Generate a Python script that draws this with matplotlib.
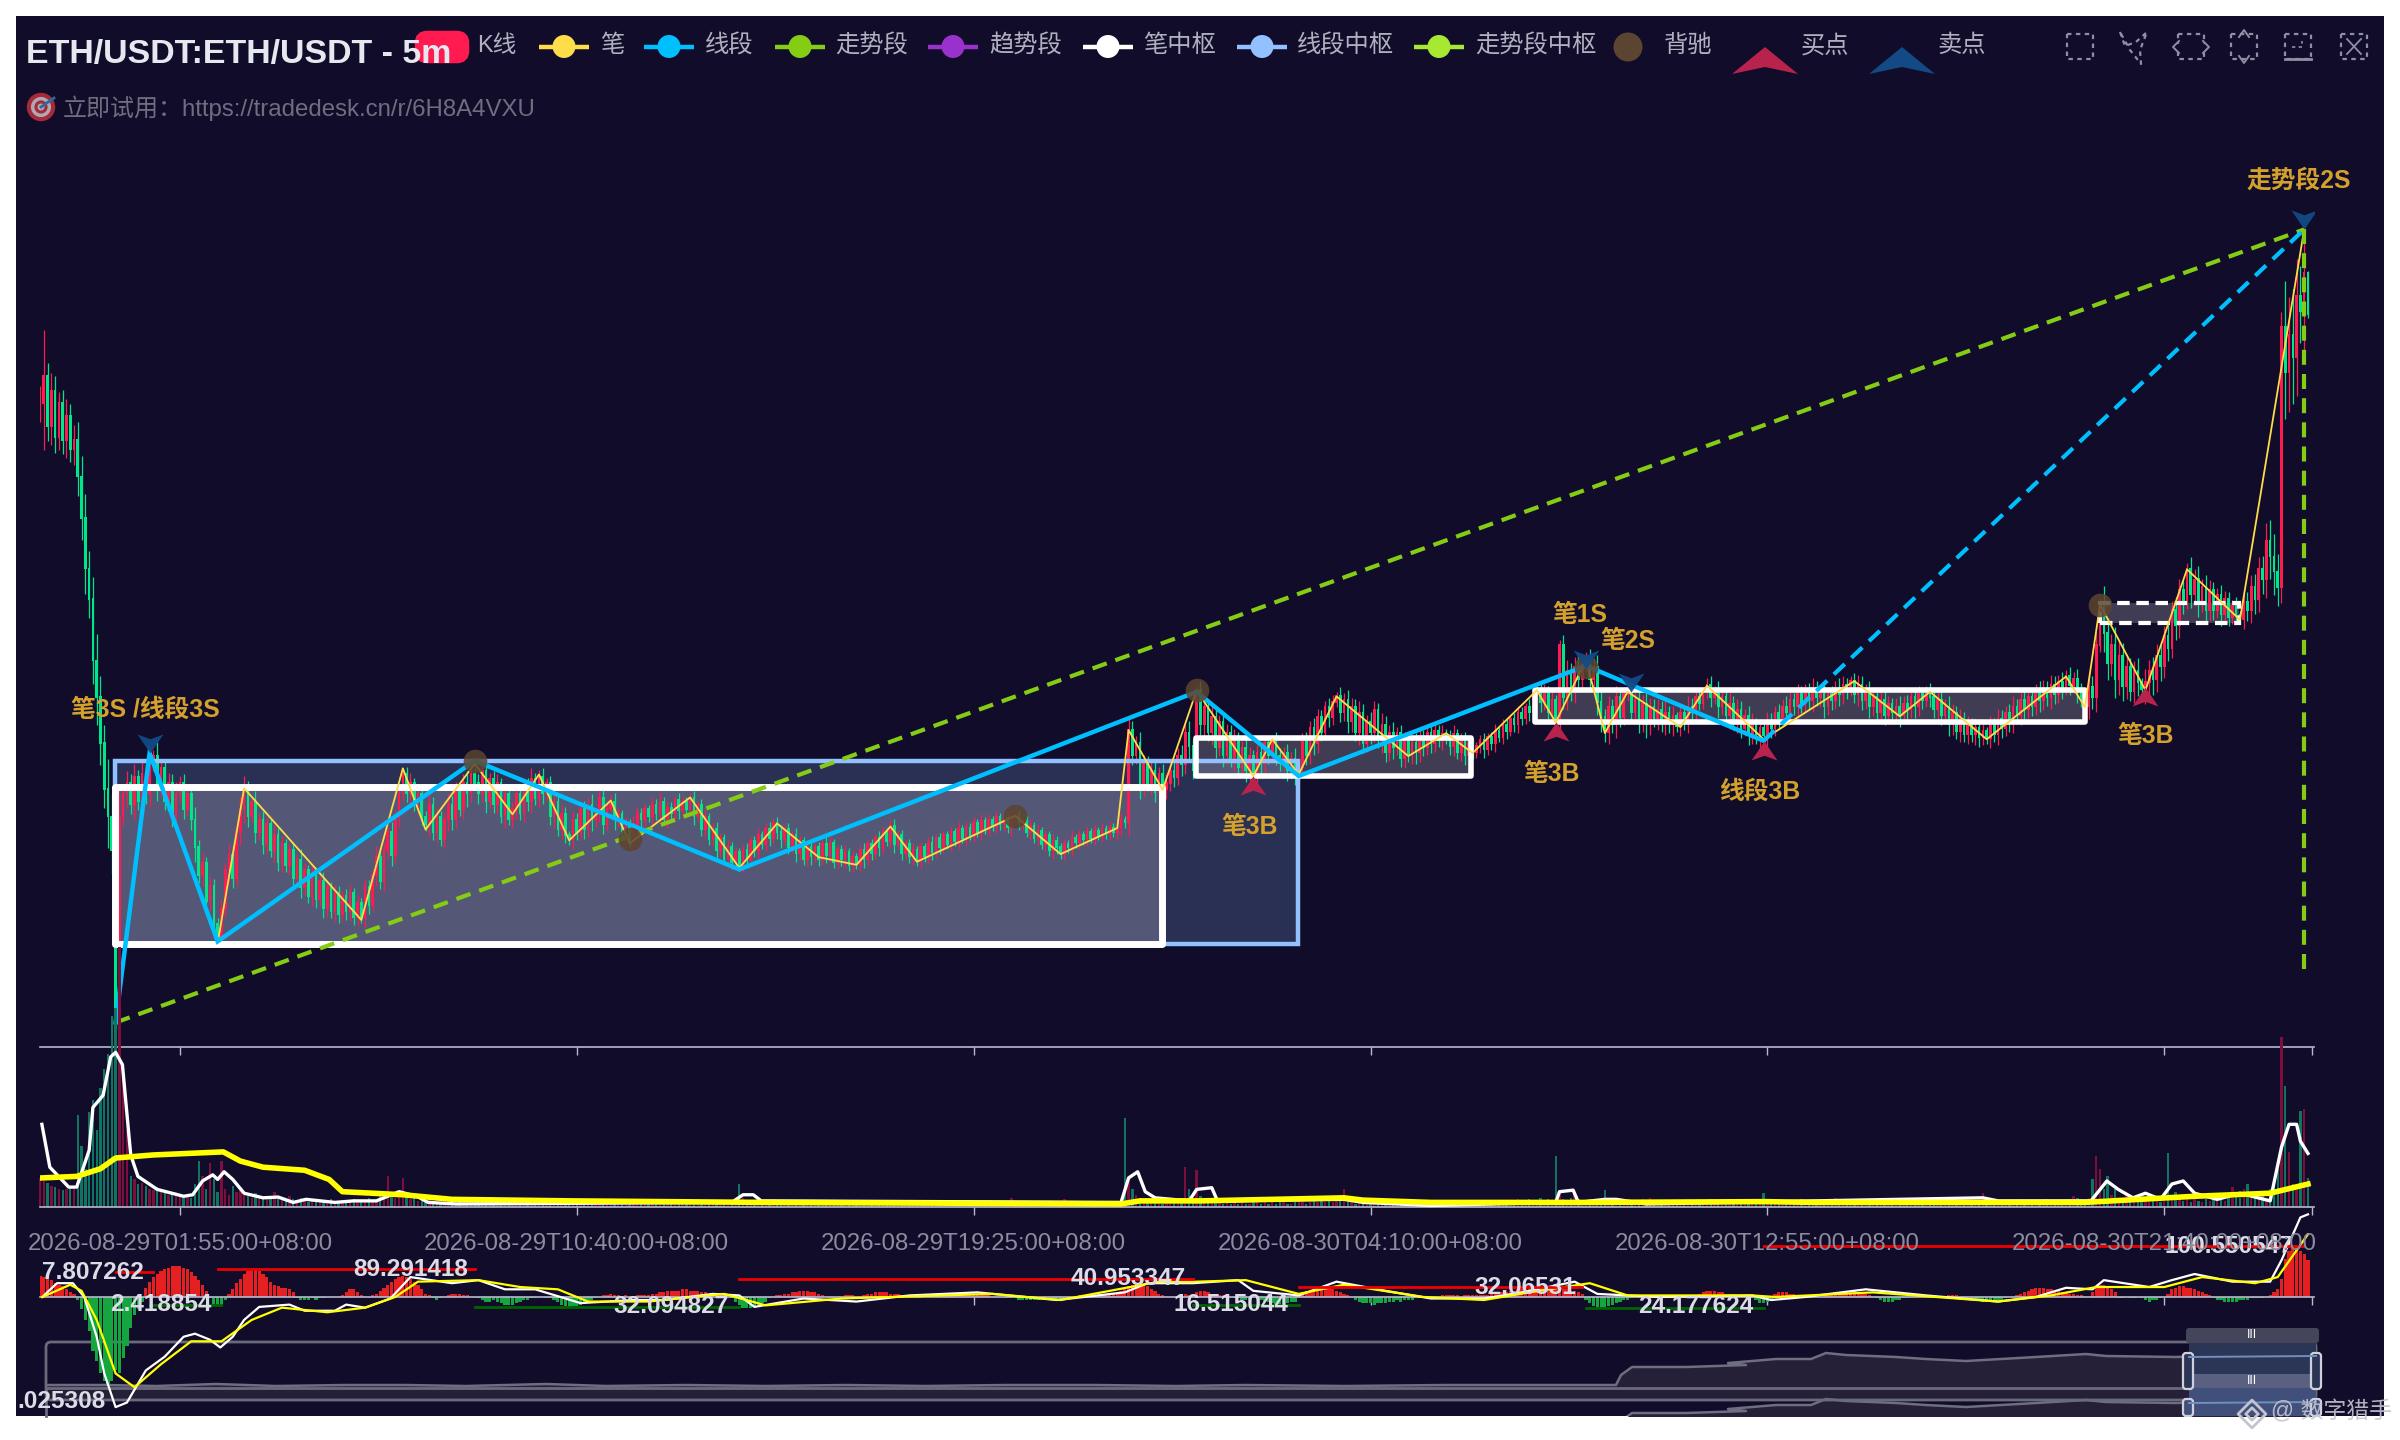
import matplotlib
matplotlib.use("Agg")
import matplotlib.pyplot as plt
from matplotlib.patches import Rectangle, FancyBboxPatch, Polygon, Ellipse
from matplotlib.path import Path
import numpy as np

plt.rcParams['font.family'] = ['Liberation Sans', 'Noto Sans CJK SC', 'DejaVu Sans']

BG = '#100c2a'
RED = '#ff1a50'
GREEN = '#00e68a'
GOLD = '#d4a12c'
AXIS = '#b9b8ce'
W, H = 2400, 1440

# candles: one close per 5 minute bar, open is the close before it
close = [
    420,438,405,428,398,420,396,412,390,396,372,345,312,292,252,228,198,168,150,128,
    20,150,165,172,158,176,160,178,165,184,190,170,182,160,172,150,165,172,155,165,
    148,130,112,120,95,105,80,72,90,115,125,110,140,155,168,150,160,140,148,132,
    145,128,138,120,132,118,128,110,122,104,115,98,112,96,108,90,104,88,100,86,
    98,88,100,84,94,84,104,92,112,124,108,128,140,125,150,165,178,165,172,158,
    165,150,145,158,140,150,135,148,158,148,168,155,172,165,178,172,165,180,160,175,
    158,172,150,165,148,155,165,152,170,160,175,162,176,165,172,150,160,142,152,138,
    135,148,140,155,142,158,148,152,162,145,155,160,148,152,138,145,134,145,152,148,
    155,150,158,152,160,148,156,152,161,154,160,155,162,150,158,142,150,135,142,128,
    136,122,130,120,127,118,128,122,134,128,138,132,142,136,146,140,135,142,130,138,
    126,134,122,130,124,130,122,132,125,133,120,128,122,127,118,124,119,128,122,132,
    126,136,130,140,134,144,132,138,126,132,124,128,121,130,124,133,127,136,130,138,
    132,140,134,142,136,143,138,146,140,147,142,148,144,150,145,149,143,150,151,146,
    148,140,144,136,141,132,138,128,134,130,126,132,130,136,133,138,135,140,136,141,
    138,142,139,143,140,143,148,146,207,190,198,170,185,172,180,166,178,168,172,180,
    176,190,184,205,196,180,233,210,222,205,215,195,212,190,205,188,200,182,195,180,
    190,177,192,185,198,190,200,190,185,192,180,188,178,182,200,190,208,198,215,205,
    222,215,225,229,218,226,212,222,205,218,198,212,205,220,200,210,192,205,195,205,
    188,200,190,198,192,202,195,205,198,206,200,204,202,196,204,192,200,190,198,192,
    196,200,194,202,198,206,202,210,206,214,210,218,214,222,218,228,233,225,232,218,
    226,212,262,228,245,232,248,240,250,253,240,248,225,215,205,222,210,228,215,230,
    232,218,226,212,224,210,222,214,220,212,218,210,216,209,218,212,222,218,228,224,
    232,236,228,232,222,228,216,224,212,220,208,216,204,212,201,208,203,212,208,218,
    214,222,218,226,222,230,224,232,226,234,228,230,222,230,226,234,230,236,232,239,
    230,236,226,232,222,228,218,226,216,224,218,222,216,224,220,228,222,230,226,232,
    228,220,226,216,222,210,218,206,214,204,210,204,208,202,206,201,210,204,214,208,
    218,212,222,216,226,220,228,222,232,226,234,228,236,230,238,234,242,236,240,232,
    228,222,235,228,262,289,270,250,262,240,255,235,248,232,245,238,233,238,245,240,
    255,248,268,260,285,275,298,290,312,295,305,290,300,285,298,285,295,282,292,280,
    288,282,279,290,285,300,292,312,305,330,320,310,300,470,440,465,450,490,480,505,478,
]
wick = [
    12,30,9,12,10,8,9,11,8,10,12,14,16,12,15,18,14,12,20,15,
    8,20,5,8,6,9,5,8,6,8,4,9,6,5,7,6,8,5,6,4,
    6,9,5,7,4,6,5,4,6,5,7,6,5,8,9,6,4,7,5,6,
    5,4,7,5,6,4,5,6,4,7,5,4,6,5,4,6,5,4,6,5,
    4,5,6,4,5,3,6,5,4,7,5,6,4,7,5,6,4,5,7,4,
    6,5,4,7,5,6,4,5,7,6,5,4,6,8,5,4,6,5,7,4,
    5,6,4,7,3,5,6,4,5,6,7,4,5,6,4,5,7,4,6,5,
    3,6,5,4,6,5,7,4,5,6,4,5,6,4,3,5,4,6,5,4,
    4,3,5,4,6,3,5,4,3,5,4,3,4,5,3,4,5,3,4,5,
    4,3,5,4,3,3,4,5,3,4,5,3,4,5,3,4,5,3,4,3,
    5,4,3,4,5,3,4,3,5,4,3,3,4,5,3,4,3,4,5,3,
    4,3,5,4,3,4,5,3,4,3,4,5,3,4,3,4,5,3,4,3,
    3,4,3,5,3,4,3,4,3,5,3,4,3,4,3,4,3,5,3,4,
    4,3,5,3,4,3,4,3,5,4,3,4,3,5,3,4,3,4,3,4,
    3,4,3,4,3,4,5,3,8,6,5,8,6,5,7,6,5,7,6,5,
    6,5,7,6,8,5,3,6,7,5,8,6,5,7,6,5,8,6,5,7,
    6,4,5,7,6,5,4,6,5,4,6,5,7,4,5,6,5,7,6,5,
    4,6,5,3,6,5,7,6,5,8,6,5,7,6,5,8,6,5,7,4,
    5,6,4,5,7,6,5,4,6,5,4,6,4,5,6,4,5,6,4,4,
    3,4,5,3,4,5,3,4,5,3,4,5,4,3,5,4,3,6,5,4,
    6,4,4,7,8,6,7,8,6,5,7,6,8,9,6,7,5,8,6,5,
    4,6,5,7,6,8,6,5,7,6,8,5,7,3,6,5,7,6,5,4,
    3,5,6,4,7,5,6,8,5,7,6,5,7,6,3,6,5,7,6,5,
    6,5,7,6,5,7,6,5,6,7,5,6,7,5,6,5,7,6,5,3,
    5,7,6,5,7,6,5,7,6,5,4,6,7,5,6,5,7,6,5,4,
    6,5,7,6,5,7,6,5,7,5,6,5,7,6,5,3,6,5,7,6,
    5,6,7,5,6,7,5,6,5,7,6,5,7,6,5,7,4,6,5,7,
    6,5,8,7,9,4,12,10,8,12,10,9,8,6,7,9,3,9,8,10,
    8,9,7,8,6,9,8,7,4,8,7,9,6,8,7,6,5,7,6,5,
    4,6,3,6,7,8,9,8,9,12,14,15,12,10,30,25,30,25,20,29,2,
]

# 笔
pen_x = [47,54,85,96,102,115,125,132,140,151,156,172,185,195,206,216,225,232,258,270,285,288,297,
         306,321,326,333,343,362,372,379,396,401,409,414,420,434,441,456,480,492,500,515,536,541,
         545,557,568,582,599]
pen_v = [68,169,83,182,142,185,152,178,135,161,133,163,117,146,124,119,144,121,151,126,143,207,168,
         233,177,201,178,229,190,205,192,233,212,253,205,232,209,236,201,239,216,232,201,242,222,
         289,233,312,279,534]
# 线段, the last leg is dashed
seg_x = [20,29,47,115,185,306,333,409,456]
seg_v = [16,192,69,187,116,232,177,249,200]
seg_open_x = [456,599]
seg_open_v = [200,534]
# 走势段
trend_x = [20,599]
trend_v = [16,534]
trend_drop_x = [599,599]
trend_drop_v = [534,51]
# 线段中枢 / 笔中枢: left, right, bottom, top
seg_hub = [19.8,332.8,67,187]
pen_hubs = [[19.8,296.8,67,170],[305.7,378.5,177,202],[395.5,540.9,212,233]]
open_hub = [544.9,581.8,277,290]
# 背驰
div_x = [115,156,258,306,409,545]
div_v = [187,136,151,233,248,289]
# 买卖点
buy_x = [321,401,456,557]
buy_v = [177,212,200,235]
sell_x = [29,409,421,599]
sell_v = [192,247,232,534]
point_labels = ['笔3S /线段3S','走势段2S','笔1S','笔2S','笔3B','笔3B','笔3B','线段3B']
point_label_x = [28,597.5,407.5,420,320,400,557,455]
point_label_v = [220,566,282,265,144,178,203,167]

# 成交量
vol = [
    19,17,16,14,13,12,11,12,14,13,60,40,25,62,70,50,78,90,100,125,
    130,170,90,50,20,18,15,16,14,12,11,13,10,9,8,9,10,8,7,8,
    6,15,30,20,12,29,18,10,30,12,8,14,10,13,8,7,6,9,6,5,
    7,6,10,5,6,4,7,5,3,6,4,3,5,4,3,4,3,5,3,4,
    3,4,3,5,4,3,4,6,3,4,7,5,20,9,6,10,19,8,5,7,
    4,6,3,5,4,8,3,4,3,5,2,3,4,3,2,3,2,4,2,3,
    2,3,4,2,3,2,3,2,5,3,2,3,2,4,2,3,2,2,3,2,
    3,2,5,3,2,3,2,4,2,3,2,3,2,3,2,2,4,2,3,2,
    2,3,2,2,3,2,2,3,2,2,3,2,3,2,2,3,2,2,4,2,
    3,2,2,3,4,15,6,3,2,2,3,2,2,3,2,2,3,2,2,2,
    3,2,2,3,2,2,3,2,4,2,3,2,2,3,2,2,2,3,2,3,
    3,2,2,4,2,3,2,2,3,2,2,3,2,2,3,2,2,4,2,3,
    2,3,2,2,3,2,2,3,2,2,2,3,2,2,3,2,2,6,3,2,
    3,2,2,3,2,4,2,3,2,2,3,5,2,3,2,2,3,2,2,2,
    2,3,2,2,3,2,2,58,19,12,8,6,4,5,3,4,3,2,3,3,
    4,3,5,26,12,5,24,7,4,3,3,4,3,2,3,2,3,2,3,2,
    2,3,4,2,3,2,3,2,4,3,2,2,3,4,3,2,3,4,3,4,
    3,4,3,5,8,12,5,3,2,3,2,2,3,2,4,3,2,3,2,2,
    3,2,2,3,2,2,3,2,3,2,2,2,3,2,2,3,2,2,3,2,
    2,2,3,2,3,4,3,2,4,3,2,5,3,4,5,3,4,6,3,5,
    4,33,9,5,4,6,10,5,3,4,5,3,5,4,11,3,2,3,4,3,
    3,4,2,3,5,3,6,3,4,3,2,3,4,3,2,3,5,2,3,4,
    3,4,5,3,2,3,2,3,4,3,2,3,2,3,4,3,9,5,4,3,
    3,2,3,2,4,3,5,3,2,3,3,2,5,3,4,6,3,2,3,2,
    3,4,2,3,4,3,5,3,3,2,3,2,3,4,3,2,3,2,3,2,
    3,2,3,2,3,2,3,4,3,2,3,2,3,2,9,4,3,5,3,2,
    3,2,4,3,5,3,2,4,3,2,4,5,3,2,4,3,4,5,7,6,
    5,4,6,18,33,25,12,20,8,12,5,6,8,4,5,3,4,5,6,4,
    5,3,4,35,8,10,6,4,5,3,6,4,3,5,4,6,8,5,4,7,
    13,8,6,12,15,10,8,7,9,6,12,18,25,111,79,36,15,12,63,64,19,
]
# 成交量均线
vol_fast_x = [0.5,2.6,7.6,9.7,13,14,16.7,18.7,20,21.8,24,25.9,31,38,40.4,43,45.7,47,48.7,51,54,59,63,67,70.4,78,83,89,95,99.7,102.7,110,
              183,186,188.7,190.8,286,288,290.4,292.4,295,304,306,310,311.5,345,350,368,401,402,405.6,407,414,417,425,514,518,542.6,546.8,
              549.8,553.7,557,561,564,567,570,576,582,590,593,595,597,598,600]
vol_fast_h = [54,26,13,13,37,65,73,98,101,93,34,20,11.5,7,8,17,21,18,23,18,9,6,6.5,3,5,3,4,4,10,7,3,2,
              3,8,8,4,3,19,23,10,6,4,11.5,12.6,4,5,3,1,3,10,11,3,5,5,2,6,4,4,17,
              11.5,6,9,5,15,17,9,5,9,4,39,54,54,43,35]
vol_slow_x = [0.5,9.7,16,20,30,48.5,53,59,70,76.5,80,96,109,141,192,286,291,307,345,350,368,408,456.6,469,541,570,590,600]
vol_slow_h = [19,20,25,32,34,36,30,26,24,18,10,8,5,4,3,2,4,4,6,4.5,3,3,3.5,3,3,7,9,15]

# MACD
hist = [
    14,13,12,11,9,8,7,5,3,2,-2,-8,-15,-22,-35,-42,-50,-55,-57,-55,
    -48,-50,-40,-32,-20,-12,-8,-3,6,10,13,15,17,18,19,20,20,20,19,18,
    16,14,11,8,4,-1,-5,-6,-5,-2,2,5,9,12,15,17,18,18,17,15,
    13,10,8,7,6,6,5,3,-1,-2,-2,-2,-1,-2,-1,-1,0,0,0,0,
    1,3,5,5,3,1,0,0,1,2,4,6,8,10,12,13,14,13,12,10,
    8,5,2,1,-1,-2,-1,0,1,2,2,2,1,1,0,0,-1,-2,-3,-3,
    -2,-3,-4,-5,-5,-5,-4,-3,-2,-2,-1,-1,0,0,-1,-1,-2,-3,-5,-6,
    -7,-6,-6,-5,-4,-3,-2,-1,0,1,1,2,1,1,0,1,0,0,1,1,
    1,1,2,2,3,3,4,4,4,4,5,5,4,4,4,3,3,2,2,2,
    1,1,0,-1,-3,-5,-7,-7,-7,-6,-5,-4,-3,-1,0,1,1,2,2,3,
    3,4,4,4,3,3,2,1,0,-1,-1,0,0,1,1,1,0,0,1,2,
    2,3,3,3,3,2,2,2,1,1,1,0,-1,-1,0,1,1,2,2,2,
    2,2,2,1,1,1,1,2,2,2,1,1,0,0,0,-1,-1,-1,-1,-2,
    -2,-2,-2,-2,-2,-1,-1,-2,-2,-2,-2,-1,-1,-1,0,1,1,1,2,2,
    2,2,2,2,2,3,4,5,7,8,9,9,8,7,5,4,2,1,0,0,
    0,0,1,2,1,2,3,4,4,3,2,2,1,1,0,0,-1,-1,-2,-2,
    -2,-1,-1,-2,-3,-3,-4,-5,-5,-5,-4,-3,-3,2,3,4,4,5,5,6,
    6,6,5,4,3,2,1,0,-2,-3,-4,-4,-4,-5,-4,-4,-4,-3,-3,-2,
    -3,-2,-2,-2,-1,-1,0,0,0,0,0,1,1,1,1,1,0,1,1,1,
    1,1,1,1,2,2,3,3,3,4,4,5,5,5,5,5,5,4,4,4,
    5,5,6,5,5,4,4,3,2,-2,-4,-6,-7,-7,-7,-6,-5,-4,-3,-2,
    -2,-1,0,0,1,1,0,0,1,1,0,0,-1,0,0,1,1,1,1,2,
    3,4,4,4,3,3,2,2,2,1,1,1,0,-1,-2,-4,-4,-3,-2,2,
    3,3,3,2,2,1,1,1,1,1,0,0,1,1,1,2,2,3,4,4,
    4,3,3,2,1,0,-1,-2,-3,-3,-3,-2,-2,-1,-1,0,0,1,1,1,
    1,1,0,0,0,1,1,1,0,-1,-1,-2,-2,-2,-3,-3,-3,-3,-2,-2,
    -1,0,0,1,2,3,4,5,6,6,6,5,5,4,4,3,3,2,2,1,
    1,0,0,3,7,8,8,7,5,3,-1,-1,0,-1,-1,0,-1,-2,-3,-2,
    -2,-1,0,2,5,6,7,7,6,6,5,4,3,2,1,-1,-2,-2,-3,-3,
    -3,-3,-2,-2,-2,-1,-1,-1,-1,0,1,3,5,12,25,30,33,33,30,28,24,
]
dif_x = [0.6,4.5,8.7,11.7,15,17,20,23,28,33,38,41,45,47.7,51,54,58,66,70,78,81,86,92.7,98,109,116,123,131,143,157,165,178,185,189,202,216,230,248,269,287,293,305,
         317,321,333,343,356,368,382,392,406,412,428,453,458,467,483,499,518,528,536,543,546,558,564,570,580,590,593,598,600]
dif_h = [0,9,9,0,-26,-50,-72,-69,-48,-39,-26,-24,-28,-33,-26,-15,-6.5,-5,-9,-9,-5,-7,-1,13,9,11,5,5,-4,-2,-2,2,1,-6.5,-1,-3,1,3,-2,3,9,9,
         11,4,1,10,4,-1,-1,3,10,2,0,1,-2,0,5,1,-3,0,6,5,11,6.5,11,15,10,10,24,52,54]
dea_x = [0.6,8,11,15,20,25,32,40,48,56,64,76,86,94,100,116,127,137,145,161,181,192,212,252,270,296,306,
         319,333,345,366,382,394,410,420,453,459,485,518,532,544,562,572,586,592,600]
dea_h = [0,8,4,-15,-50,-59,-44,-29,-29,-15,-7,-10,-7,0,10,11,6.5,5,-3,-3,2,-5.5,-1,2,-2,10,10,
         11,2,8,0,-2,3,9,1,1,0,3,-3,1,6.5,6.5,13,9,13,41]
macd_line_x = [[20,30],[47,115],[29,48],[115,185],[185,305],[305,333],[333,408],[409,456],[456,599]]
macd_line_h = [16,18.3,-5.4,-6.5,12,-5.4,6.5,-7,33]
macd_line_up = [True,True,False,False,True,False,True,False,True]
macd_labels = ['7.807262','89.291418','2.418854','32.094827','40.953347','16.515044','32.06531','24.177624','100.550547']
macd_label_x = [14,98,32,167,288,315,393,438,579]
macd_label_h = [16,18,-5,-6,12,-5,6,-6,33]

# dataZoom 总览
dz_x = [0,60,110,170,230,300,360,420,500,560,640,720,800,880,960,1050,1130,1200,1300,1400,1500,1570,
        1575,1586,1640,1700,1682,1730,1765,1780,1800,1850,1880,1920,1990,2040,2060,2130,2180,2220,2270]
dz_v = [15,15,14,16,14,15,15,14,16,14,15,14,15,14,15,15,14,15,14,15,15,15,
        25,33,33,35,37,41,41,47,45,43,41,39,43,46,44,43,45,47,44]

tick_pos = [37,142,247,352,457,562,601]
tick_labels = ['2026-08-29T01:55:00+08:00','2026-08-29T10:40:00+08:00','2026-08-29T19:25:00+08:00',
               '2026-08-30T04:10:00+08:00','2026-08-30T12:55:00+08:00','2026-08-30T21:40:00+08:00','']

legend_names = ['笔','线段','走势段','趋势段','笔中枢','线段中枢','走势段中枢']
legend_colors = ['#ffdc4a','#00bfff','#85cc14','#9932cc','#ffffff','#93c0ff','#a6e832']
legend_mark_x = [564,669,800,953,1108,1262,1439]
legend_text_x = [600,705,835,989,1143,1297,1475]
tool_x = [2080,2135,2191,2244,2298,2354]


def px_axes(left, top, right, bottom, **kw):
    a = fig.add_axes([left / W, 1 - bottom / H, (right - left) / W, (bottom - top) / H], **kw)
    a.patch.set_alpha(0)
    return a


fig = plt.figure(figsize=(24, 14.4), dpi=100, facecolor='white')

# background, title, legend and toolbox, in picture pixels
ov = px_axes(0, 0, W, H, zorder=0)
ov.set_xlim(0, W)
ov.set_ylim(H, 0)
ov.axis('off')
ov.add_patch(Rectangle((16, 16), 2368, 1400, color=BG, lw=0))
ov.add_patch(FancyBboxPatch((421, 37), 42, 20, boxstyle='round,pad=0,rounding_size=6', mutation_aspect=1,
                            fc=RED, ec=RED, lw=9))
ov.text(26, 55, 'ETH/USDT:ETH/USDT - 5m', color='#e6e8f0', fontsize=24.4, fontweight='bold', va='center', zorder=5)
ov.text(477, 46, 'K线', color='#b0b0c0', fontsize=17, va='center')
for name, c, mx, tx in zip(legend_names, legend_colors, legend_mark_x, legend_text_x):
    ov.plot([mx - 25, mx + 25], [46.5, 46.5], color=c, lw=3.2, solid_capstyle='butt')
    ov.add_patch(Ellipse((mx, 46.5), 23, 23, color=c, lw=0))
    ov.text(tx, 46, name, color='#b0b0c0', fontsize=17.5, va='center')
ov.add_patch(Ellipse((1628, 47), 29, 29, color='#5c4530', lw=0))
ov.text(1664, 46, '背驰', color='#b0b0c0', fontsize=17.5, va='center')
for cx, c, name, tx in [(1765, '#b8234d', '买点', 1801), (1902, '#134a86', '卖点', 1937)]:
    ov.add_patch(Polygon([(cx, 47), (cx + 33, 74), (cx, 67), (cx - 33, 74)], color=c, lw=0))
    ov.text(tx, 46, name, color='#b0b0c0', fontsize=17.5, va='center')
# toolbox icons
ICON = '#8f8fa3'
for k, tx in enumerate(tool_x):
    if k == 1:
        ov.plot([tx - 15, tx - 10, tx + 1, tx + 12, tx + 5, tx + 6, tx - 5, tx - 15],
                [32, 46, 42, 32, 50, 64, 50, 32], color=ICON, lw=1.6, ls=(0, (2, 2)))
        continue
    ov.add_patch(Rectangle((tx - 13, 34), 26, 25, fill=False, ec=ICON, lw=1.6, ls=(0, (2, 2))))
    if k == 2:
        ov.plot([tx - 20, tx + 20], [47, 47], color=BG, lw=5)
        ov.plot([tx - 12, tx - 18, tx - 12], [41, 47, 53], color=ICON, lw=1.4)
        ov.plot([tx + 12, tx + 18, tx + 12], [41, 47, 53], color=ICON, lw=1.4)
    elif k == 3:
        ov.plot([tx - 5, tx, tx + 5], [37, 30, 37], color=ICON, lw=1.4)
        ov.plot([tx - 5, tx, tx + 5], [56, 63, 56], color=ICON, lw=1.4)
    elif k == 4:
        ov.plot([tx - 13, tx + 13], [59, 59], color=ICON, lw=2)
        ov.plot([tx - 6, tx + 4, tx + 4], [47, 47, 41], color=ICON, lw=1.2, ls=(0, (2, 2)))
    elif k == 5:
        ov.plot([tx - 7, tx + 7], [39, 54], color=ICON, lw=1.3)
        ov.plot([tx + 7, tx - 7], [39, 54], color=ICON, lw=1.3)
ov.scatter([41, 41, 41, 41], [107, 107, 107, 107], s=[420, 210, 90, 25],
           c=['#a52a3c', '#b0a8b0', '#a52a3c', '#b0a8b0'], linewidths=0)
ov.plot([41, 54], [107, 98], color='#2a6aa0', lw=2)
ov.text(63, 108, '立即试用：https://tradedesk.cn/r/6H8A4VXU', color='#6e6e80', fontsize=17.3, va='center')

# dataZoom sliders
dz = px_axes(46, 1342, 2316, 1400, zorder=1)
dz.set_xlim(0, 2270)
dz.set_ylim(0, 58)
dz.axis('off')
dz.fill_between(dz_x, dz_v, 0, color='#252038', lw=0)
dz.plot(dz_x, dz_v, color='#6f6d80', lw=1.8)
dz2 = px_axes(46, 1388, 2316, 1416, zorder=1.1)
dz2.set_xlim(0, 2270)
dz2.set_ylim(30, 58)
dz2.axis('off')
dz2.fill_between(dz_x, dz_v, 0, color='#252038', lw=0)
dz2.plot(dz_x, dz_v, color='#6f6d80', lw=1.8)

fr = px_axes(0, 0, W, H, zorder=1.2)
fr.set_xlim(0, W)
fr.set_ylim(H, 0)
fr.axis('off')
fr.add_patch(FancyBboxPatch((46, 1342), 2270, 58, boxstyle='round,pad=0,rounding_size=5', fill=False, ec='#6a6a7d', lw=2))
fr.plot([46, 2316], [1388, 1388], color='#6a6a7d', lw=2)
fr.plot([46, 46], [1388, 1416], color='#6a6a7d', lw=2)

# main chart: x is the bar number, y a price reading
ax = px_axes(40, 110, 2314, 1047, zorder=2)
ax.set_xlim(0, 601.6)
ax.set_ylim(0, 612)
opens = [close[0]] + close[:-1]
xs = np.arange(len(close))
col = [RED if c >= o else GREEN for o, c in zip(opens, close)]
hi = [max(o, c) + w for o, c, w in zip(opens, close, wick)]
lo = [min(o, c) - w for o, c, w in zip(opens, close, wick)]
ax.vlines(xs, lo, hi, colors=col, lw=0.9, zorder=2)
ax.bar(xs, [abs(c - o) + 1 for o, c in zip(opens, close)], bottom=[min(o, c) for o, c in zip(opens, close)],
       width=0.7, color=col, lw=0, zorder=2)

l, r, b, t = seg_hub
ax.add_patch(Rectangle((l, b), r - l, t - b, fc='#93c0ff', alpha=0.2, lw=0, zorder=1))
ax.add_patch(Rectangle((l, b), r - l, t - b, fill=False, ec='#93c0ff', lw=3.2, zorder=3))
for k, (l, r, b, t) in enumerate(pen_hubs):
    ax.add_patch(Rectangle((l, b), r - l, t - b, fc='white', alpha=0.2, lw=0, zorder=1))
    ax.add_patch(Rectangle((l, b), r - l, t - b, fill=False, ec='white', lw=5 if k == 0 else 4, zorder=3, joinstyle='round'))
l, r, b, t = open_hub
ax.add_patch(Rectangle((l, b), r - l, t - b, fc='white', alpha=0.2, lw=0, zorder=1))
ax.add_patch(Rectangle((l, b), r - l, t - b, fill=False, ec='white', lw=3, ls=(0, (3, 1.6)), zorder=3))

ax.plot(pen_x, pen_v, color='#ffdc4a', lw=1.3, zorder=4)
ax.plot(seg_x, seg_v, color='#00bfff', lw=3.2, zorder=5, solid_joinstyle='miter')
ax.plot(seg_open_x, seg_open_v, color='#00bfff', lw=3, ls=(0, (3.6, 2.2)), zorder=5)
ax.plot(trend_x, trend_v, color='#85cc14', lw=3, ls=(0, (3.6, 2.2)), zorder=4.5)
ax.plot(trend_drop_x, trend_drop_v, color='#85cc14', lw=3, ls=(0, (3.6, 2.2)), zorder=4.5)

up_arrow = Path([(0, 0), (0.68, -1), (0, -0.75), (-0.68, -1), (0, 0)], closed=True)
down_arrow = Path([(0, 0), (0.68, 1), (0, 0.75), (-0.68, 1), (0, 0)], closed=True)
ax.scatter(div_x, div_v, s=290, color='#5c4530', alpha=0.85, linewidths=0, zorder=6)
ax.scatter(buy_x, buy_v, marker=up_arrow, s=750, color='#b8234d', linewidths=0, zorder=7)
ax.scatter(sell_x, sell_v, marker=down_arrow, s=750, color='#134a86', alpha=0.95, linewidths=0, zorder=7)
for s, x, y in zip(point_labels, point_label_x, point_label_v):
    ax.text(x, y, s, color=GOLD, fontsize=17.8, fontweight='bold', ha='center', va='center', zorder=8)

for s in ['top', 'left', 'right']:
    ax.spines[s].set_visible(False)
ax.spines['bottom'].set_color(AXIS)
ax.spines['bottom'].set_linewidth(1.2)
ax.set_yticks([])
ax.set_xticks(tick_pos)
ax.tick_params(axis='x', length=6, width=1, color=AXIS, labelbottom=False)

# volume
av = px_axes(40, 1047, 2314, 1207, zorder=3)
av.set_xlim(0, 601.6)
av.set_ylim(0, 104.5)
vol_col = ['#7d0f3d' if c >= o else '#0f7560' for o, c in zip(opens, close)]
av.bar(np.arange(len(vol)), vol, width=0.62, color=vol_col, lw=0, clip_on=False)
av.plot(vol_fast_x, vol_fast_h, color='white', lw=2.4, clip_on=False, zorder=4)
av.plot(vol_slow_x, vol_slow_h, color='#ffff00', lw=4, zorder=5)
for s in ['top', 'left', 'right']:
    av.spines[s].set_visible(False)
av.spines['bottom'].set_color(AXIS)
av.spines['bottom'].set_linewidth(1.2)
av.set_yticks([])
av.set_xticks(tick_pos)
av.set_xticklabels(tick_labels, fontsize=17.3, color='#8c8c9e')
av.tick_params(axis='x', length=6, width=1, color=AXIS, pad=13)

# MACD
am = px_axes(40, 1207, 2314, 1416, zorder=2.5)
am.set_xlim(0, 601.6)
am.set_ylim(-77.8, 58.8)
am.bar(np.arange(len(hist)), hist, width=0.85, color=['#e62020' if h >= 0 else '#16a640' for h in hist], lw=0, zorder=2)
am.plot(dif_x, dif_h, color='white', lw=1.6, zorder=3)
am.plot(dea_x, dea_h, color='#ffff00', lw=1.6, zorder=3.5)
for xr, h, up in zip(macd_line_x, macd_line_h, macd_line_up):
    am.plot(xr, [h, h], color='#ee0000' if up else '#006400', lw=2, zorder=4)
for s, x, h in zip(macd_labels, macd_label_x, macd_label_h):
    am.text(x, h, s, color='#dcdce6', fontsize=17.6, fontweight='bold', ha='center', va='center', zorder=6)
am.text(-6, -68.5, '.025308', color='#dcdce6', fontsize=17.6, fontweight='bold', ha='left', va='center', zorder=6)
for s in ['top', 'left', 'right']:
    am.spines[s].set_visible(False)
am.spines['bottom'].set_position(('data', 0))
am.spines['bottom'].set_color(AXIS)
am.spines['bottom'].set_linewidth(1.2)
am.spines['bottom'].set_zorder(2.5)
am.set_yticks([])
am.set_xticks(tick_pos)
am.tick_params(axis='x', length=6, width=1, color=AXIS, labelbottom=False)

# slider window and watermark on top
top = px_axes(0, 0, W, H, zorder=6)
top.set_xlim(0, W)
top.set_ylim(H, 0)
top.axis('off')
top.add_patch(Rectangle((2189, 1343), 127, 31, color='#2b3556', lw=0))
top.add_patch(Rectangle((2189, 1388), 127, 28, color='#40507a', lw=0))
top.add_patch(Rectangle((2189, 1374), 127, 14, color='#5a6080', lw=0))
top.plot([2189, 2316], [1357, 1356], color='#6f8fc0', lw=1.4)
top.plot([2189, 2316], [1403, 1402], color='#6f8fc0', lw=1.4)
top.add_patch(FancyBboxPatch((2186, 1328), 133, 15, boxstyle='round,pad=0,rounding_size=3', color='#44445a', lw=0))
top.text(2252, 1335, 'III', color='white', fontsize=9, ha='center', va='center')
top.text(2252, 1381, 'III', color='white', fontsize=9, ha='center', va='center')
for hx in [2188, 2316]:
    top.add_patch(FancyBboxPatch((hx - 5, 1353), 10, 36, boxstyle='round,pad=0,rounding_size=3', fc='#2b3556', ec='#d0d0dc', lw=1.6))
    top.add_patch(FancyBboxPatch((hx - 5, 1399), 10, 17, boxstyle='round,pad=0,rounding_size=3', fc='#40507a', ec='#d0d0dc', lw=1.6))
top.scatter([2252, 2252], [1414, 1414], marker='D', s=[200, 40], facecolors='none', edgecolors='#c4c4d0', linewidths=2, zorder=7)
top.text(2271, 1412, '@ 数字猎手', color='#c4c4d0', fontsize=16.5, va='center', alpha=0.9, zorder=7)

fig.savefig('out.png', dpi=100, facecolor='white')
